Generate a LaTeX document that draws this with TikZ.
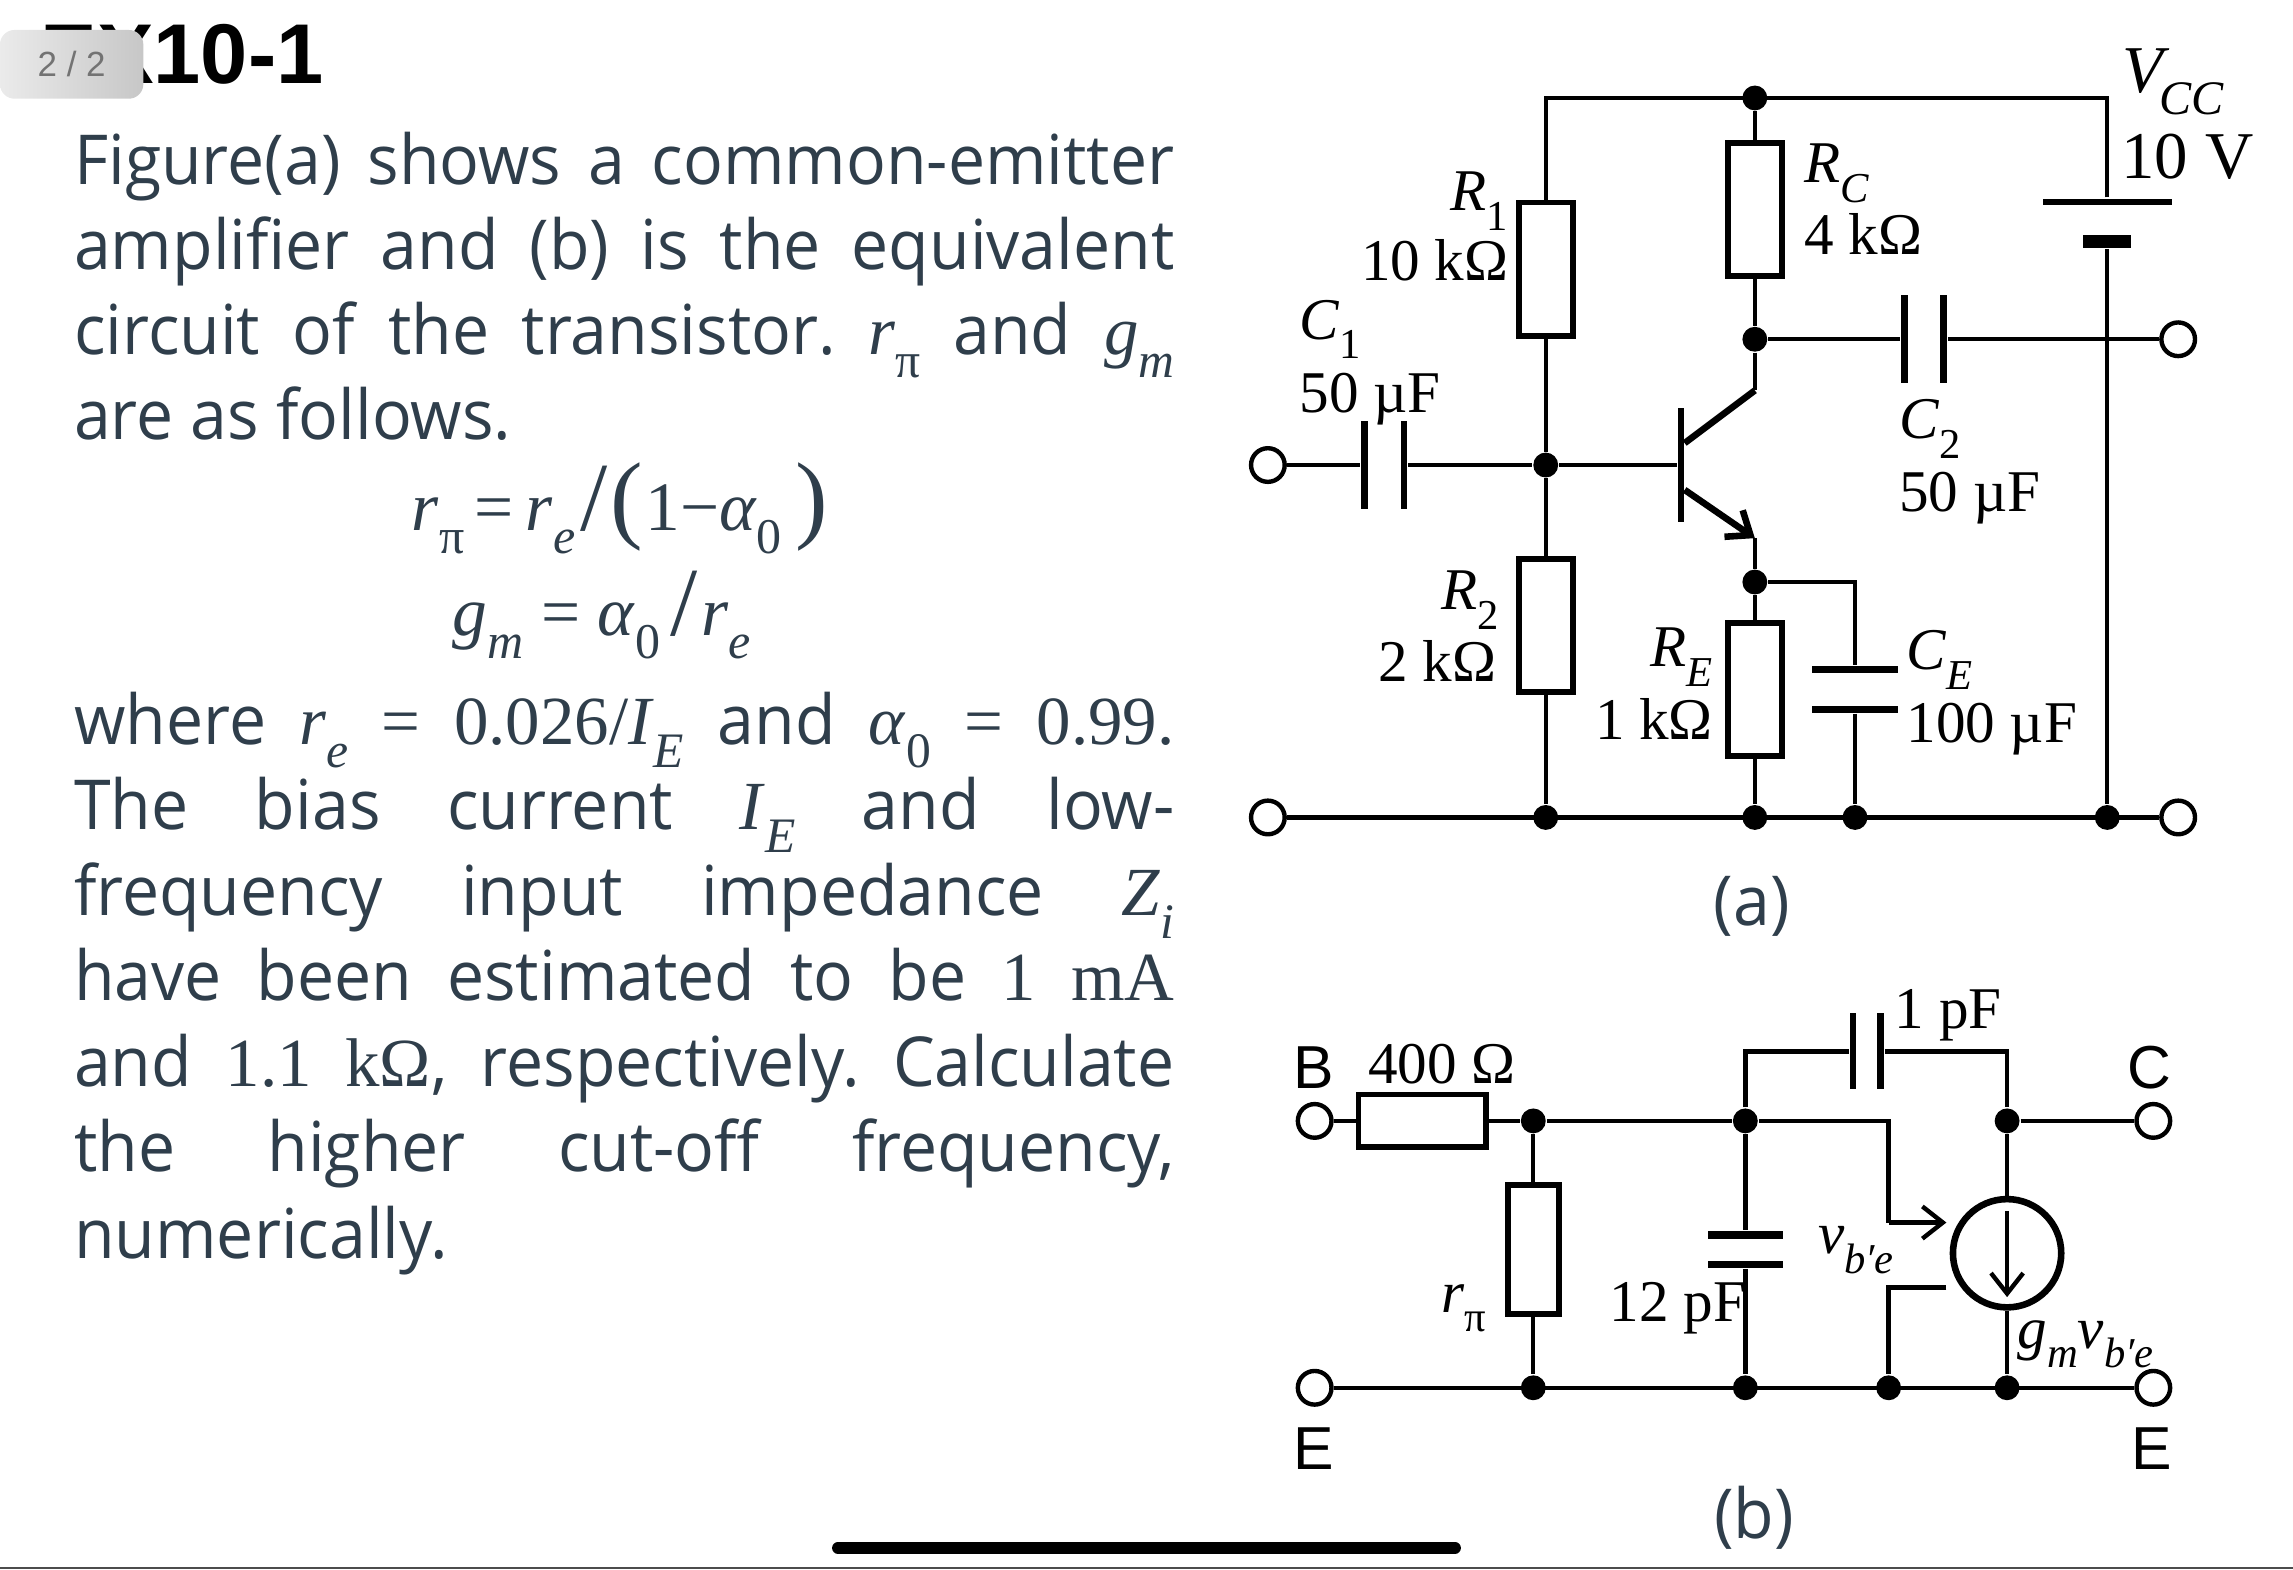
\documentclass[tikz,border=0pt]{standalone}
\usepackage{fontspec}
\setmainfont{Liberation Serif}
\setsansfont{Liberation Sans}
\newfontfamily\bodyfont[FakeStretch=.96]{Open Sans}
\usetikzlibrary{arrows.meta}
\definecolor{encre}{RGB}{47,62,75}
\newcommand{\sz}[1]{\fontsize{#1}{#1}\selectfont}
\newcommand{\vsub}[2]{{\rmfamily\textit{#1}\raisebox{-.33em}{\scalebox{.72}{#2}}}}
\newcommand{\vit}[2]{\vsub{#1}{\textit{#2}}}
\newcommand{\ligne}[1]{\makebox[7.52cm][s]{\frenchspacing #1}}
\tikzstyle{fil}=[line width=.03cm]
\tikzstyle{res}=[draw,rectangle,line width=.04cm,inner sep=0]
\tikzstyle{vres}=[res,minimum width=.37cm,minimum height=.91cm]
\tikzstyle{dot}=[circle,fill,minimum size=.17cm,inner sep=0]
\tikzstyle{port}=[circle,draw,fill=white,line width=.03cm,minimum size=.23cm,inner sep=0]
\tikzstyle{plaque}=[rectangle,fill,inner sep=0]
\tikzstyle{etiq}=[anchor=base west,inner sep=0,font=\sz{11.5}]
\tikzstyle{lettre}=[anchor=base west,inner sep=0,font=\sffamily\sz{11.8}]
\tikzstyle{texte}=[anchor=base west,inner sep=0,text=encre,font=\bodyfont\sz{13.4}]
\tikzstyle{formule}=[anchor=base west,inner sep=0,text=encre,font=\sz{13.5}]
\tikzstyle{legende}=[anchor=base,inner sep=0,text=encre,font=\bodyfont\sz{13.4}]
\tikzstyle{pointe}=[-{Straight Barb[length=.14cm,width=.22cm]}]

\begin{document}
\begin{tikzpicture}[x=.01cm,y=-.01cm]
\useasboundingbox (0,0) rectangle (1568,1073);

%titre
\node[anchor=base east,inner sep=0,font=\sffamily\bfseries\sz{16.5}] (titre) at (222,57) {EX10-1};
\node[rectangle,rounded corners=.1cm,left color=black!8,right color=black!22,minimum width=.98cm,
  minimum height=.47cm,inner sep=0,text=black!55,font=\sffamily\sz{6.8}] (page) at (49,44) {2 / 2};

%enonce
\node[texte] (t1) at (50,126.5) {\ligne{Figure(a) shows a common-emitter}};
\node[texte] (t2) at (50,184.5) {\ligne{amplifier and (b) is the equivalent}};
\node[texte] (t3) at (50,242.5) {\ligne{circuit of the transistor. \vsub{r}{π} and \vit{g}{m}}};
\node[texte] (t4) at (50,300.5) {are as follows.};
\node[formule] (eq1) at (281,363)
  {\vsub{r}{π}\kern.14em=\kern.18em\vit{r}{e}\kern.08em{\sz{19}/\kern.03em(}\kern.03em1−\vsub{α}{0}\kern.2em{\sz{19})}};
\node[formule] (eq2) at (309,434.5)
  {\vit{g}{m}\kern.26em=\kern.24em\vsub{α}{0}\kern.15em{\sz{19}/}\kern.05em\vit{r}{e}};
\node[texte] (t5) at (50,509) {\ligne{where \vit{r}{e} {\rmfamily = 0.026/}\vit{I}{E} and \vsub{α}{0} {\rmfamily = 0.99.}}};
\node[texte] (t6) at (50,567.5) {\ligne{The bias current \vit{I}{E} and low-}};
\node[texte] (t7) at (50,626) {\ligne{frequency input impedance \vit{Z}{i}}};
\node[texte] (t8) at (50,684) {\ligne{have been estimated to be {\rmfamily 1 mA}}};
\node[texte] (t9) at (50,743) {\ligne{and {\rmfamily 1.1 kΩ}, respectively. Calculate}};
\node[texte] (t10) at (50,801) {\ligne{the higher cut-off frequency,}};
\node[texte] (t11) at (50,860.5) {numerically.};

%circuit a
\foreach \nom/\x/\y in {jh/1200/67,jb/1057/318,jc/1200/232,je/1200/398,g1/1057/559,g2/1200/559,g3/1268.5/559,g4/1441/559}
  \node[dot] (\nom) at (\x,\y) {};
\foreach \nom/\x/\y in {ent/867/318,sor/1489.5/232,ma/867/559,mb/1489.5/559}
  \node[port] (\nom) at (\x,\y) {};
\coordinate (coin1) at (1057,67);
\coordinate (coin2) at (1441,67);
\coordinate (coin3) at (1268.5,398);
\coordinate (ctop) at (1200,267);
\coordinate (coll) at (1152,303);
\coordinate (emet) at (1152,335);
\coordinate (etop) at (1200,368);
\node[vres] (R1) at (1057,184) {};
\node[vres] (R2) at (1057,427.5) {};
\node[vres] (RC) at (1200,143.5) {};
\node[vres] (RE) at (1200,471.5) {};
\node[plaque,minimum width=.045cm,minimum height=.6cm] (c1a) at (933,318) {};
\node[plaque,minimum width=.045cm,minimum height=.6cm] (c1b) at (960,318) {};
\node[plaque,minimum width=.045cm,minimum height=.6cm] (c2a) at (1302.5,232) {};
\node[plaque,minimum width=.045cm,minimum height=.6cm] (c2b) at (1329,232) {};
\node[plaque,minimum width=.59cm,minimum height=.045cm] (cea) at (1268.5,458) {};
\node[plaque,minimum width=.59cm,minimum height=.045cm] (ceb) at (1268.5,485) {};
\node[plaque,minimum width=.88cm,minimum height=.045cm] (bat1) at (1441,138) {};
\node[plaque,minimum width=.33cm,minimum height=.09cm] (bat2) at (1441,165) {};
\node[plaque,minimum width=.045cm,minimum height=.78cm] (qbar) at (1149.5,318) {};

\draw[fil] (bat1) -- (coin2) -- (coin1) -- (R1);
\draw[fil] (R1) -- (jb) -- (R2) -- (g1);
\draw[fil] (jh) -- (RC) -- (jc) -- (ctop);
\draw[fil] (jc) -- (c2a);
\draw[fil] (c2b) -- (sor);
\draw[fil] (ent) -- (c1a);
\draw[fil] (c1b) -- (jb) -- (qbar);
\draw[line width=.045cm] (coll) -- (ctop);
\draw[line width=.045cm,pointe] (emet) -- (etop);
\draw[fil] (etop) -- (je) -- (RE) -- (g2);
\draw[fil] (je) -- (coin3) -- (cea);
\draw[fil] (ceb) -- (g3);
\draw[fil] (bat2) -- (g4);
\draw[fil] (ma) -- (mb);

\node[etiq] (lR1) at (991,144) {\vsub{R}{1}};
\node[etiq] (vR1) at (930,192) {10 kΩ};
\node[etiq] (lC1) at (888,232) {\vsub{C}{1}};
\node[etiq] (vC1) at (888,282) {50 µF};
\node[etiq] (lRC) at (1233,125) {\vit{R}{C}};
\node[etiq] (vRC) at (1233,174) {4 kΩ};
\node[etiq,font=\sz{13}] (lVC) at (1451,63) {\vit{V\kern-.07em}{CC}};
\node[etiq,font=\sz{13}] (vVC) at (1450,122) {10 V};
\node[etiq] (lC2) at (1298,300) {\vsub{C}{2}};
\node[etiq] (vC2) at (1298,350) {50 µF};
\node[etiq] (lR2) at (985,417) {\vsub{R}{2}};
\node[etiq] (vR2) at (942,466) {2 kΩ};
\node[etiq] (lRE) at (1128,456) {\vit{R}{E}};
\node[etiq] (vRE) at (1090,506) {1 kΩ};
\node[etiq] (lCE) at (1303,458) {\vit{C}{E}};
\node[etiq] (vCE) at (1303,508) {100 µF};
\node[legende] (cap1) at (1198,633) {(a)};

%circuit b
\foreach \nom/\x/\y in {k1/1048.5/766.5,k2/1193.5/766.5,k3/1372.5/766.5,n1/1048.5/949,n2/1193.5/949,n3/1291.5/949,n4/1372.5/949}
  \node[dot] (\nom) at (\x,\y) {};
\foreach \nom/\x/\y in {pB/899/766.5,pC/1472.5/766.5,pE/899/949,pF/1472.5/949}
  \node[port] (\nom) at (\x,\y) {};
\coordinate (h1) at (1193.5,719);
\coordinate (h2) at (1372.5,719);
\coordinate (v1) at (1291.5,766.5);
\coordinate (v2) at (1291.5,836);
\coordinate (v3) at (1331,836);
\coordinate (w1) at (1331,880.5);
\coordinate (w2) at (1291.5,880.5);
\coordinate (s1) at (1372.5,828);
\coordinate (s2) at (1372.5,887);
\node[res,minimum width=.87cm,minimum height=.36cm] (Rb) at (972.5,766.5) {};
\node[vres,minimum width=.35cm,minimum height=.88cm] (Rpi) at (1048.5,854.5) {};
\node[plaque,minimum width=.045cm,minimum height=.52cm] (cma) at (1267,719) {};
\node[plaque,minimum width=.045cm,minimum height=.52cm] (cmb) at (1286,719) {};
\node[plaque,minimum width=.51cm,minimum height=.05cm] (cpa) at (1193.5,844.5) {};
\node[plaque,minimum width=.51cm,minimum height=.05cm] (cpb) at (1193.5,864.5) {};
\node[circle,draw,line width=.045cm,minimum size=.74cm,inner sep=0] (src) at (1372.5,857) {};

\draw[fil] (pB) -- (Rb) -- (k1) -- (k2) -- (v1) -- (v2);
\draw[fil,pointe] (v2) -- (v3);
\draw[fil] (k3) -- (pC);
\draw[fil] (k1) -- (Rpi) -- (n1);
\draw[fil] (k2) -- (cpa);
\draw[fil] (cpb) -- (n2);
\draw[fil] (k2) -- (h1) -- (cma);
\draw[fil] (cmb) -- (h2) -- (k3);
\draw[fil] (k3) -- (src) -- (n4);
\draw[fil,pointe] (s1) -- (s2);
\draw[fil] (w1) -- (w2) -- (n3);
\draw[fil] (pE) -- (pF);

\node[lettre] (lB) at (884,744) {B};
\node[etiq] (vRb) at (935,741) {400 Ω};
\node[etiq] (vCm) at (1295,703.5) {1 pF};
\node[lettre] (lC) at (1454,744) {C};
\node[lettre] (lE) at (884,1005) {E};
\node[lettre] (lF) at (1457,1005) {E};
\node[etiq] (lRpi) at (985,897.5) {\vsub{r}{π}};
\node[etiq] (vCp) at (1100,904) {12 pF};
\node[etiq] (lv) at (1242.5,857.5) {\vit{v}{b′e}};
\node[etiq] (lg) at (1379,922) {\vit{g}{m}\vit{v}{b′e}};
\node[legende] (cap2) at (1199.5,1052) {(b)};

%barre du bas
\draw[line width=.08cm,line cap=round] (573,1058.5) -- (995,1058.5);
\draw[line width=.015cm,black!70] (0,1072) -- (1568,1072);
\end{tikzpicture}
\end{document}
